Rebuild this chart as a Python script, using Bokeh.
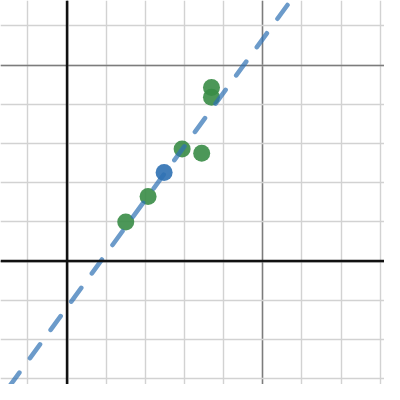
from bokeh.plotting import figure
from bokeh.models import Grid, SingleIntervalTicker, Span, Range1d
from bokeh.embed import file_html
from bokeh.resources import INLINE

# data
green_x = [1.5, 2.07, 2.94, 3.44, 3.69, 3.69]
green_y = [1.0, 1.65, 2.86, 2.75, 4.43, 4.18]
blue_x = [2.48]
blue_y = [2.26]
slope = 1.37
intercept = -1.18
line_x = [-2.0, 9.0]
line_y = [slope * x + intercept for x in line_x]

p = figure(width=384, height=384, output_backend="svg", toolbar_location=None,
           x_axis_type=None, y_axis_type=None,
           x_range=Range1d(-1.70, 8.11), y_range=Range1d(-3.15, 6.65),
           min_border=0, outline_line_color=None, background_fill_color="white")
p.grid.visible = False

for dim in (0, 1):
    p.add_layout(Grid(dimension=dim, ticker=SingleIntervalTicker(interval=1),
                      grid_line_color="#d2d2d2", grid_line_width=1.4), "center")
    p.add_layout(Grid(dimension=dim, ticker=SingleIntervalTicker(interval=5),
                      grid_line_color="#7c7c7c", grid_line_width=1.5), "center")

p.add_layout(Span(location=0, dimension="height", line_color="#111111", line_width=2.5))
p.add_layout(Span(location=0, dimension="width", line_color="#111111", line_width=2.5))

p.scatter(green_x, green_y, size=17, fill_color="#388c46", line_color=None, fill_alpha=0.9)
p.line(line_x, line_y, line_color="#2d70b3", line_alpha=0.7, line_width=4.6,
       line_dash="17 18", line_cap="round")
p.scatter(blue_x, blue_y, size=17, fill_color="#2d70b3", line_color=None, fill_alpha=0.9)

open("out.html", "w").write(file_html(p, INLINE))
